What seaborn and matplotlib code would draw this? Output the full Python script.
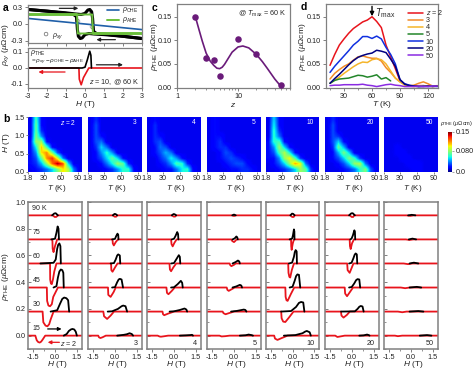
"""Topological Hall effect figure: hysteresis, z dependence, maps and loops."""

import matplotlib.pyplot as plt
import numpy as np
import pandas as pd
import seaborn as sns
from matplotlib.ticker import MultipleLocator, NullFormatter

W, H = 474, 372
Z2 = r"$z$ = 2"

# panel a: hysteresis
a_xy_up_H = [-3, -2, -1, -0.5, -0.2, 0.0, 0.15, 0.25, 0.35, 0.4, 0.45, 0.6, 1, 2, 3]
a_xy_up = [0.26, 0.23, 0.2, 0.18, 0.17, 0.19, 0.25, 0.26, 0.22, 0.1, -0.13, -0.17, -0.18, -0.22, -0.26]
a_xy_down_H = [3, 2, 1, 0.5, 0.2, 0.0, -0.15, -0.25, -0.35, -0.4, -0.45, -0.6, -1, -2, -3]
a_xy_down = [-0.26, -0.22, -0.19, -0.18, -0.17, -0.19, -0.25, -0.26, -0.22, -0.1, 0.13, 0.17, 0.19, 0.23, 0.26]
a_ohe_H = [-3, 3]
a_ohe = [0.1, -0.1]
a_ahe_H = [-3, 0.38, 0.42, 3, -0.38, -0.42, -3]
a_ahe = [0.17, 0.17, -0.17, -0.17, -0.17, 0.17, 0.17]
a_the_black_H = [-3, -0.15, 0.0, 0.12, 0.25, 0.31, 0.34]
a_the_black = [0, 0, 0.005, 0.05, 0.105, 0.08, 0]
a_the_red_H = [-3, -0.32, -0.3, -0.2, -0.08, 0.2, 3]
a_the_red = [0, 0, -0.07, -0.105, -0.06, 0, 0]

# panel c
z_points = [2, 3, 4, 5, 10, 20, 50]
the_points = [0.15, 0.062, 0.059, 0.024, 0.103, 0.072, 0.005]
z_guide = [2, 2.3, 2.6, 3, 3.5, 4, 4.5, 5, 5.5, 6, 7, 8, 10, 12, 15, 20, 25, 30, 40, 50]
the_guide = [0.15, 0.122, 0.098, 0.073, 0.056, 0.047, 0.041, 0.04, 0.043, 0.049, 0.063, 0.075, 0.086, 0.088, 0.084, 0.07, 0.055, 0.041, 0.018, 0.003]

# panel d
temps_d = [15, 20, 25, 30, 35, 40, 45, 50, 55, 60, 65, 70, 75, 80, 85, 90, 95, 100, 105, 110, 115, 120, 125, 130]
the_T = {
    Z2: [0.047, 0.07, 0.09, 0.103, 0.115, 0.125, 0.132, 0.139, 0.143, 0.15, 0.14, 0.127, 0.09, 0.065, 0.04, 0.014, 0.007, 0.004, 0.003, 0.004, 0.004, 0.003, 0.003, 0.003],
    "3": [0.018, 0.03, 0.038, 0.045, 0.05, 0.058, 0.065, 0.067, 0.064, 0.062, 0.062, 0.056, 0.042, 0.032, 0.02, 0.012, 0.007, 0.004, 0.005, 0.009, 0.012, 0.008, 0.003, 0.004],
    "4": [0.009, 0.016, 0.022, 0.03, 0.037, 0.044, 0.05, 0.054, 0.053, 0.059, 0.061, 0.059, 0.05, 0.035, 0.02, 0.012, 0.005, 0.003, 0.002, 0.003, 0.004, 0.003, 0.002, 0.003],
    "5": [0.009, 0.015, 0.018, 0.019, 0.02, 0.023, 0.026, 0.025, 0.022, 0.024, 0.027, 0.018, 0.021, 0.014, None, None, None, None, None, None, None, None, None, None],
    "10": [0.032, 0.045, 0.056, 0.067, 0.078, 0.09, 0.098, 0.108, 0.108, 0.104, 0.109, 0.103, 0.085, 0.07, 0.05, 0.016, 0.008, 0.005, 0.003, 0.002, 0.003, 0.002, 0.003, 0.002],
    "20": [0.009, 0.019, 0.028, 0.038, 0.048, 0.057, 0.064, 0.068, 0.071, 0.073, 0.079, 0.077, 0.074, 0.06, 0.045, 0.017, 0.007, 0.004, 0.003, 0.002, 0.002, 0.003, 0.002, 0.003],
    "50": [0.004, 0.005, 0.005, 0.006, 0.006, 0.006, 0.006, 0.007, 0.005, 0.004, 0.002, 0.004, 0.006, 0.007, 0.005, 0.004, 0.002, 0.002, 0.002, 0.003, 0.002, 0.002, 0.003, 0.003],
}
colors_d = ["#e8141c", "#f28c28", "#f5b52a", "#23862a", "#1030e0", "#000080", "#8a2be2"]

# panel b: maps, in 0.01 uOhm cm, rows from 1.425 T down to 0.075 T
map_T = [5, 15, 25, 35, 45, 55, 65, 75, 85, 95]
map_H = [1.425, 1.275, 1.125, 0.975, 0.825, 0.675, 0.525, 0.375, 0.225, 0.075]
bg = 1.5
map_tables = {
    Z2: [
        [bg, 6.5, 2, bg, bg, bg, bg, bg, bg, bg],
        [bg, 7, 2, bg, bg, bg, bg, bg, bg, bg],
        [bg, 7, 2.5, bg, bg, bg, bg, bg, bg, bg],
        [bg, 7.5, 4, bg, bg, bg, bg, bg, bg, bg],
        [2, 8, 8, 2, bg, bg, bg, bg, bg, bg],
        [2, 5.5, 10.5, 6.5, 2, bg, bg, bg, bg, bg],
        [2, 4, 10, 11.5, 7.5, 3, bg, bg, bg, bg],
        [2, 3, 7, 11.5, 13, 9, 3.5, bg, bg, bg],
        [2, 2.5, 4.5, 8, 12, 14.5, 12.5, 5, bg, bg],
        [bg, 2, 2.5, 3.5, 5, 7.5, 10, 8.5, 3.5, bg],
    ],
    "3": [
        [bg, 2.5, bg, bg, bg, bg, bg, bg, bg, bg],
        [bg, 3, bg, bg, bg, bg, bg, bg, bg, bg],
        [bg, 3, bg, bg, bg, bg, bg, bg, bg, bg],
        [bg, 3, 2, bg, bg, bg, bg, bg, bg, bg],
        [bg, 3, 3.5, bg, bg, bg, bg, bg, bg, bg],
        [bg, 2.5, 5, 3.5, bg, bg, bg, bg, bg, bg],
        [bg, 2, 4, 6, 4, bg, bg, bg, bg, bg],
        [bg, 2, 3, 5, 7, 5, 2, bg, bg, bg],
        [bg, bg, 2, 3.5, 5.5, 8, 7, 2.5, bg, bg],
        [bg, bg, bg, 2, 2.5, 4, 6, 6, 2, bg],
    ],
    "4": [
        [bg, 2, bg, bg, bg, bg, bg, bg, bg, bg],
        [bg, 2.5, bg, bg, bg, bg, bg, bg, bg, bg],
        [bg, 2.5, bg, bg, bg, bg, bg, bg, bg, bg],
        [bg, 2.5, 2, bg, bg, bg, bg, bg, bg, bg],
        [bg, 2.5, 3, bg, bg, bg, bg, bg, bg, bg],
        [bg, 2, 3.5, 3, bg, bg, bg, bg, bg, bg],
        [bg, 2, 3, 4.5, 3.5, bg, bg, bg, bg, bg],
        [bg, bg, 2.5, 3.5, 5.5, 4, 2, bg, bg, bg],
        [bg, bg, 2, 2.5, 4, 6.5, 6, 2.5, bg, bg],
        [bg, bg, bg, 2, 2, 3.5, 5.5, 6, 2, bg],
    ],
    "5": [
        [bg, 2, bg, bg, bg, bg, bg, bg, bg, bg],
        [bg, 2, bg, bg, bg, bg, bg, bg, bg, bg],
        [bg, 2, bg, bg, bg, bg, bg, bg, bg, bg],
        [bg, 2, 2, bg, bg, bg, bg, bg, bg, bg],
        [bg, 2, 2.5, bg, bg, bg, bg, bg, bg, bg],
        [bg, 2, 2.5, 2.5, bg, bg, bg, bg, bg, bg],
        [bg, bg, 2, 3, 2.5, bg, bg, bg, bg, bg],
        [bg, bg, 2, 2.5, 3, 2.5, 2, bg, bg, bg],
        [bg, bg, bg, 2, 2.5, 3, 3, 2, bg, bg],
        [bg, bg, bg, bg, 2, 2, 2.5, 2.5, 2, bg],
    ],
    "10": [
        [bg, 5, 2, bg, bg, bg, bg, bg, bg, bg],
        [bg, 5.5, 2, bg, bg, bg, bg, bg, bg, bg],
        [bg, 6, 2.5, bg, bg, bg, bg, bg, bg, bg],
        [bg, 6, 3.5, bg, bg, bg, bg, bg, bg, bg],
        [2, 6, 6.5, 2, bg, bg, bg, bg, bg, bg],
        [2, 4, 8, 5, 2, bg, bg, bg, bg, bg],
        [2, 3, 6.5, 8.5, 5.5, 2, bg, bg, bg, bg],
        [2, 2, 4, 8, 9.5, 6.5, 2.5, bg, bg, bg],
        [bg, 2, 3, 5, 8, 11, 9.5, 3.5, bg, bg],
        [bg, bg, 2, 2.5, 3.5, 5, 8, 7, 2.5, bg],
    ],
    "20": [
        [bg, 2.5, bg, bg, bg, bg, bg, bg, bg, bg],
        [bg, 3, bg, bg, bg, bg, bg, bg, bg, bg],
        [bg, 3, bg, bg, bg, bg, bg, bg, bg, bg],
        [bg, 3, 2.5, bg, bg, bg, bg, bg, bg, bg],
        [bg, 3, 5, 2, bg, bg, bg, bg, bg, bg],
        [bg, 2.5, 7, 4.5, bg, bg, bg, bg, bg, bg],
        [bg, 2, 4.5, 7.5, 5, bg, bg, bg, bg, bg],
        [bg, 2, 3, 5, 7.5, 6, 2.5, bg, bg, bg],
        [bg, bg, 2, 3, 5, 8, 8.5, 3.5, bg, bg],
        [bg, bg, bg, 2, 2.5, 3.5, 6, 7.5, 3, bg],
    ],
    "50": [
        [bg, bg, bg, bg, bg, bg, bg, bg, bg, bg],
        [bg, bg, bg, bg, bg, bg, bg, bg, bg, bg],
        [bg, bg, bg, bg, bg, bg, bg, bg, bg, bg],
        [bg, bg, bg, bg, bg, bg, bg, bg, bg, bg],
        [bg, bg, bg, bg, bg, bg, bg, bg, bg, bg],
        [bg, bg, 1.8, bg, bg, bg, bg, bg, bg, bg],
        [bg, bg, 1.8, 1.9, bg, bg, bg, bg, bg, bg],
        [bg, bg, bg, 1.9, 1.9, bg, bg, bg, bg, bg],
        [bg, bg, bg, bg, 1.8, 1.9, 1.8, bg, bg, bg],
        [bg, bg, bg, bg, bg, 1.7, 1.8, bg, bg, bg],
    ],
}

# bottom row: loops per z, each temperature gives (H, rho) offset by its baseline
loop_temps = [15, 30, 45, 60, 75, 90]
loop_base = [0.0, 0.18, 0.36, 0.54, 0.72, 0.90]
loops_black = {
    Z2: {
        15: ([0.6, 0.8, 0.95, 1.1, 1.2, 1.32, 1.42, 1.5], [0, 0.012, 0.035, 0.047, 0.05, 0.046, 0.03, 0]),
        30: ([-0.3, 0.15, 0.35, 0.5, 0.63, 0.78, 0.9, 0.97], [0, 0.01, 0.06, 0.095, 0.105, 0.1, 0.085, 0]),
        45: ([-0.1, 0.1, 0.2, 0.3, 0.4, 0.5, 0.57, 0.6], [0, 0.01, 0.075, 0.12, 0.135, 0.13, 0.11, 0]),
        60: ([-1.0, -0.1, 0.05, 0.15, 0.22, 0.3, 0.37, 0.4], [0, 0.005, 0.03, 0.11, 0.14, 0.15, 0.13, 0]),
        75: ([-0.25, 0.0, 0.1, 0.18, 0.24, 0.27], [0, 0.005, 0.05, 0.097, 0.08, 0]),
        90: ([-0.2, -0.05, 0.05, 0.2], [0, 0.014, 0.016, 0]),
    },
    "3": {
        15: ([0.15, 0.6, 0.8, 1.0, 1.15, 1.24], [0, 0.006, 0.01, 0.018, 0.012, 0]),
        30: ([-0.5, -0.2, 0.2, 0.45, 0.56, 0.72, 0.83], [0, 0.002, 0.02, 0.04, 0.045, 0.04, 0]),
        45: ([-0.2, 0.0, 0.15, 0.25, 0.33, 0.45, 0.55], [0, 0.003, 0.04, 0.06, 0.065, 0.06, 0]),
        60: ([-0.3, -0.07, 0.05, 0.15, 0.22, 0.33, 0.36], [0, 0.003, 0.03, 0.06, 0.068, 0.06, 0]),
        75: ([-0.2, 0.0, 0.08, 0.17, 0.22, 0.24], [0, 0.004, 0.025, 0.043, 0.035, 0]),
        90: ([-0.15, -0.03, 0.05, 0.15], [0, 0.011, 0.009, 0]),
    },
    "4": {
        15: ([0.4, 0.8, 1.1, 1.24, 1.3], [0, 0.002, 0.004, 0.006, 0]),
        30: ([-0.3, 0.0, 0.4, 0.72, 0.85, 0.9], [0, 0.002, 0.012, 0.023, 0.015, 0]),
        45: ([-0.2, 0.0, 0.25, 0.47, 0.56, 0.6], [0, 0.002, 0.025, 0.05, 0.035, 0]),
        60: ([-0.2, 0.0, 0.15, 0.33, 0.4, 0.43], [0, 0.003, 0.03, 0.062, 0.05, 0]),
        75: ([-0.15, 0.0, 0.1, 0.22, 0.28, 0.3], [0, 0.005, 0.025, 0.055, 0.04, 0]),
        90: ([-0.15, -0.03, 0.05, 0.15], [0, 0.01, 0.008, 0]),
    },
    "5": {
        15: ([0.4, 0.8, 1.0, 1.2, 1.3], [0, 0.003, 0.008, 0.004, 0]),
        30: ([-0.2, 0.2, 0.67, 0.78, 0.85], [0, 0.005, 0.015, 0.012, 0]),
        45: ([-0.1, 0.15, 0.4, 0.5, 0.55], [0, 0.008, 0.02, 0.015, 0]),
        60: ([-0.1, 0.1, 0.27, 0.36, 0.4], [0, 0.01, 0.022, 0.015, 0]),
        75: ([-0.1, 0.05, 0.16, 0.22, 0.26], [0, 0.008, 0.022, 0.016, 0]),
        90: ([-0.12, 0.0, 0.12], [0, 0.006, 0]),
    },
    "10": {
        15: ([-0.6, 0.2, 0.7, 0.88, 1.0, 1.2, 1.28], [0, 0.004, 0.018, 0.03, 0.035, 0.025, 0]),
        30: ([-0.8, -0.1, 0.25, 0.45, 0.6, 0.75, 0.83], [0, 0.004, 0.035, 0.065, 0.072, 0.068, 0]),
        45: ([-0.2, 0.0, 0.15, 0.25, 0.34, 0.45, 0.54], [0, 0.005, 0.05, 0.085, 0.098, 0.095, 0]),
        60: ([-0.25, -0.03, 0.1, 0.16, 0.22, 0.29, 0.31], [0, 0.006, 0.05, 0.085, 0.1, 0.09, 0]),
        75: ([-0.2, -0.03, 0.03, 0.1, 0.13, 0.14], [0, 0.006, 0.03, 0.075, 0.06, 0]),
        90: ([-0.15, -0.03, 0.05, 0.15], [0, 0.013, 0.011, 0]),
    },
    "20": {
        15: ([0.5, 0.8, 1.03, 1.15, 1.2], [0, 0.002, 0.008, 0.004, 0]),
        30: ([-0.75, 0.2, 0.38, 0.5, 0.6, 0.72, 0.8], [0, 0.002, 0.02, 0.036, 0.042, 0.038, 0]),
        45: ([-0.2, -0.02, 0.15, 0.28, 0.38, 0.5, 0.56], [0, 0.004, 0.03, 0.055, 0.063, 0.06, 0]),
        60: ([-0.2, -0.03, 0.1, 0.18, 0.25, 0.33, 0.36], [0, 0.005, 0.04, 0.065, 0.075, 0.068, 0]),
        75: ([-0.12, -0.03, 0.06, 0.16, 0.2, 0.22], [0, 0.006, 0.03, 0.068, 0.058, 0]),
        90: ([-0.2, -0.05, 0.05, 0.2], [0, 0.015, 0.016, 0]),
    },
    "50": {
        15: ([0.6, 1.1, 1.4], [0, 0.004, 0]),
        30: ([-0.1, 0.5, 0.85], [0, 0.004, 0]),
        45: ([-0.1, 0.4, 0.7], [0, 0.005, 0]),
        60: ([-0.1, 0.2, 0.5], [0, 0.006, 0]),
        75: ([-0.15, 0.1, 0.35], [0, 0.006, 0]),
        90: ([-0.2, 0.05, 0.3], [0, 0.004, 0]),
    },
}
loops_red = {
    Z2: {
        15: ([-1.35, -1.25, -1.15, -1.05, -0.95, -0.85, -0.67], [0, -0.035, -0.048, -0.052, -0.045, -0.03, 0]),
        30: ([-0.85, -0.8, -0.65, -0.52, -0.4, -0.3, -0.1], [0, -0.08, -0.105, -0.11, -0.095, -0.06, 0]),
        45: ([-0.56, -0.54, -0.45, -0.34, -0.22, -0.12, 0.2], [0, -0.1, -0.135, -0.14, -0.125, -0.07, 0]),
        60: ([-0.34, -0.33, -0.28, -0.22, -0.14, -0.05, 0.1], [0, -0.12, -0.15, -0.155, -0.12, -0.06, 0]),
        75: ([-0.18, -0.16, -0.1, 0.0, 0.15], [0, -0.07, -0.095, -0.05, 0]),
        90: ([-0.15, -0.02, 0.08, 0.2], [0, -0.012, -0.012, 0]),
    },
    "3": {
        15: ([-1.15, -1.1, -1.0, -0.85, -0.63], [0, -0.012, -0.018, -0.012, 0]),
        30: ([-0.8, -0.75, -0.54, -0.3, -0.07], [0, -0.035, -0.055, -0.03, 0]),
        45: ([-0.48, -0.46, -0.3, -0.1, 0.05], [0, -0.055, -0.07, -0.035, 0]),
        60: ([-0.27, -0.25, -0.17, 0.0, 0.17], [0, -0.05, -0.062, -0.03, 0]),
        75: ([-0.17, -0.15, -0.08, 0.05, 0.2], [0, -0.03, -0.045, -0.02, 0]),
        90: ([-0.15, -0.02, 0.08, 0.15], [0, -0.01, -0.01, 0]),
    },
    "4": {
        15: ([-1.12, -1.0, -0.9, -0.7, -0.4], [0, -0.006, -0.008, -0.005, 0]),
        30: ([-0.79, -0.75, -0.67, -0.4, 0.0], [0, -0.02, -0.027, -0.015, 0]),
        45: ([-0.52, -0.48, -0.38, -0.15, 0.05], [0, -0.04, -0.05, -0.025, 0]),
        60: ([-0.31, -0.28, -0.2, -0.05, 0.15], [0, -0.045, -0.058, -0.03, 0]),
        75: ([-0.2, -0.17, -0.09, 0.03, 0.18], [0, -0.035, -0.052, -0.025, 0]),
        90: ([-0.15, -0.02, 0.08, 0.15], [0, -0.009, -0.009, 0]),
    },
    "5": {
        15: ([-1.0, -0.85, -0.6, -0.3], [0, -0.006, -0.004, 0]),
        30: ([-0.78, -0.72, -0.58, -0.3, 0.0], [0, -0.012, -0.02, -0.01, 0]),
        45: ([-0.5, -0.45, -0.36, -0.15, 0.05], [0, -0.018, -0.025, -0.012, 0]),
        60: ([-0.3, -0.26, -0.18, 0.0, 0.12], [0, -0.012, -0.02, -0.01, 0]),
        75: ([-0.18, -0.12, 0.0, 0.1, 0.18], [0, -0.012, -0.02, -0.01, 0]),
        90: ([-0.12, 0.0, 0.12], [0, -0.005, 0]),
    },
    "10": {
        15: ([-1.28, -1.22, -1.05, -0.75, -0.35], [0, -0.022, -0.032, -0.018, 0]),
        30: ([-0.79, -0.76, -0.65, -0.5, -0.25, 0.07], [0, -0.05, -0.075, -0.078, -0.045, 0]),
        45: ([-0.5, -0.48, -0.42, -0.34, -0.12, 0.12], [0, -0.07, -0.095, -0.1, -0.05, 0]),
        60: ([-0.3, -0.28, -0.22, -0.16, -0.05, 0.1], [0, -0.07, -0.1, -0.105, -0.05, 0]),
        75: ([-0.1, -0.09, -0.06, 0.02, 0.1], [0, -0.05, -0.078, -0.03, 0]),
        90: ([-0.15, -0.02, 0.08, 0.15], [0, -0.012, -0.012, 0]),
    },
    "20": {
        15: ([-1.15, -1.0, -0.8, -0.5], [0, -0.01, -0.006, 0]),
        30: ([-0.76, -0.72, -0.58, -0.35, -0.15], [0, -0.03, -0.045, -0.025, 0]),
        45: ([-0.5, -0.47, -0.34, -0.15, 0.07], [0, -0.045, -0.065, -0.035, 0]),
        60: ([-0.33, -0.3, -0.16, -0.03, 0.1], [0, -0.05, -0.07, -0.035, 0]),
        75: ([-0.16, -0.14, -0.09, 0.0, 0.13], [0, -0.05, -0.072, -0.03, 0]),
        90: ([-0.15, -0.02, 0.08, 0.15], [0, -0.012, -0.012, 0]),
    },
    "50": {
        15: ([-1.1, -0.9, -0.6], [0, -0.004, 0]),
        30: ([-0.9, -0.6, -0.3], [0, -0.005, 0]),
        45: ([-0.7, -0.4, -0.1], [0, -0.005, 0]),
        60: ([-0.5, -0.2, 0.1], [0, -0.005, 0]),
        75: ([-0.35, -0.1, 0.15], [0, -0.004, 0]),
        90: ([-0.3, -0.05, 0.2], [0, -0.004, 0]),
    },
}
loop_flat = ([-1.85, 1.85], [0, 0])

sns.set_style("ticks")
plt.rcParams["font.family"] = ["Liberation Sans", "DejaVu Sans"]
plt.rcParams["mathtext.fontset"] = "custom"
plt.rcParams["mathtext.rm"] = "Liberation Sans"
plt.rcParams["mathtext.it"] = "Liberation Sans:italic"
plt.rcParams["mathtext.bf"] = "Liberation Sans:bold"
plt.rcParams["axes.edgecolor"] = "#808080"
plt.rcParams["axes.linewidth"] = 0.9
plt.rcParams["xtick.color"] = "#808080"
plt.rcParams["ytick.color"] = "#808080"
plt.rcParams["xtick.labelcolor"] = "#222222"
plt.rcParams["ytick.labelcolor"] = "#222222"

RHO_THE = r"$\rho_{\mathrm{THE}}$"
UNIT = r" ($\mu\Omega$cm)"
TICK = 5.2
LABEL = 6

fig = plt.figure(figsize=(W / 100, H / 100), dpi=100)


def px_axes(x0, y0, x1, y1):
    return fig.add_axes([x0 / W, 1 - y1 / H, (x1 - x0) / W, (y1 - y0) / H])


def px_text(x, y, text, **kw):
    kw.setdefault("fontsize", LABEL)
    kw.setdefault("color", "#222222")
    kw.setdefault("va", "center")
    kw.setdefault("ha", "center")
    fig.text(x / W, 1 - y / H, text, **kw)


def style(ax, length=2, pad=1.5):
    ax.tick_params(axis="both", which="major", labelsize=TICK, length=length, width=0.7, pad=pad)
    ax.tick_params(axis="both", which="minor", length=length * 0.6, width=0.6)


def line(ax, x, y, color, lw=1.3, **kw):
    sns.lineplot(x=x, y=y, ax=ax, color=color, linewidth=lw, sort=False, estimator=None, errorbar=None, **kw)


def arrow(ax, x0, x1, y, color):
    ax.annotate("", xy=(x1, y), xytext=(x0, y), annotation_clip=False,
                arrowprops=dict(arrowstyle="-|>", color=color, lw=0.9, mutation_scale=5, shrinkA=0, shrinkB=0))


# panel a, top
ax = px_axes(28, 5, 142, 43)
line(ax, a_xy_up_H, a_xy_up, "black", 2.2)
line(ax, a_xy_down_H, a_xy_down, "black", 2.2)
sns.scatterplot(x=[-0.35, -0.3, 0.3, 0.35], y=[0.05, -0.2, 0.2, -0.05], ax=ax, s=5, facecolor="none", edgecolor="#777777", linewidth=0.4)
line(ax, a_ohe_H, a_ohe, "#1f5fa8", 1.2)
line(ax, a_ahe_H, a_ahe, "#6abf3a", 1.4)
line(ax, [1.15, 1.8], [0.245, 0.245], "#1f5fa8", 1.2)
line(ax, [1.15, 1.8], [0.08, 0.08], "#6abf3a", 1.4)
ax.text(1.95, 0.245, r"$\rho_{\mathrm{OHE}}$", fontsize=5, va="center")
ax.text(1.95, 0.08, r"$\rho_{\mathrm{AHE}}$", fontsize=5, va="center")
sns.scatterplot(x=[-2.05], y=[-0.18], ax=ax, s=7, facecolor="none", edgecolor="#666666", linewidth=0.5)
ax.text(-1.75, -0.21, r"$\rho_{xy}$", fontsize=5, va="center")
arrow(ax, -1.35, -0.35, 0.28, "#222222")
arrow(ax, 1.6, 0.6, -0.28, "#222222")
ax.set(xlim=(-3, 3), ylim=(-0.34, 0.34))
ax.set_yticks([-0.3, 0, 0.3], ["-0.3", "0.0", "0.3"])
ax.set_xticks([-3, -2, -1, 0, 1, 2, 3], [])
style(ax)

# panel a, bottom
ax = px_axes(28, 48, 142, 88)
line(ax, a_the_red_H, a_the_red, "#e8141c", 1.2)
line(ax, a_the_black_H, a_the_black, "black", 1.2)
ax.text(-2.9, 0.095, RHO_THE, fontsize=5, va="center")
ax.text(-2.9, 0.035, r"$=\rho_{xy}-\rho_{\mathrm{OHE}}-\rho_{\mathrm{AHE}}$", fontsize=4.6, va="center")
ax.text(2.85, -0.09, r"$z$ = 10, @ 60 K", fontsize=5.2, va="center", ha="right")
arrow(ax, 0.6, 2.0, 0.02, "#222222")
arrow(ax, -1.05, -2.45, -0.025, "#e8141c")
ax.set(xlim=(-3, 3), ylim=(-0.125, 0.125))
ax.set_yticks([-0.1, 0, 0.1], ["-0.1", "0.0", "0.1"])
ax.set_xticks([-3, -2, -1, 0, 1, 2, 3], ["-3", "-2", "-1", "0", "1", "2", "3"])
style(ax)
px_text(85, 105, r"$H$ (T)")
px_text(6, 45, r"$\rho_{xy}$" + UNIT, rotation=90)

# panel c
ax = px_axes(177, 4, 290, 88)
line(ax, z_guide, the_guide, "#6a1b7a", 1.2)
sns.scatterplot(x=z_points, y=the_points, ax=ax, color="#6a1b7a", s=22, linewidth=0, zorder=3)
ax.set_xscale("log")
ax.set(xlim=(1, 71), ylim=(-0.001, 0.177), xlabel="", ylabel="")
ax.set_xticks([1, 10], ["1", "10"])
ax.xaxis.set_minor_formatter(NullFormatter())
ax.yaxis.set_major_locator(MultipleLocator(0.05))
ax.set_yticklabels([f"{v:.2f}" for v in ax.get_yticks()])
ax.text(0.97, 0.88, r"@ $T_{\mathrm{max}}$ = 60 K", transform=ax.transAxes, fontsize=5.2, ha="right", va="center")
style(ax)
px_text(233, 105, r"$z$")
px_text(154, 47, RHO_THE + UNIT, rotation=90)

# panel d
ax = px_axes(326, 4, 438, 88)
frame = pd.DataFrame(the_T, index=temps_d).rename_axis("T").reset_index().melt("T", var_name="z", value_name="rho").dropna()
sns.lineplot(frame, x="T", y="rho", hue="z", hue_order=list(the_T), palette=colors_d, ax=ax, linewidth=1.1, errorbar=None)
ax.set(xlim=(10.7, 130.7), ylim=(-0.001, 0.177), xlabel="", ylabel="")
ax.set_xticks([30, 60, 90, 120], ["30", "60", "90", "120"])
ax.xaxis.set_minor_locator(MultipleLocator(15))
ax.yaxis.set_major_locator(MultipleLocator(0.05))
ax.set_yticklabels([f"{v:.2f}" for v in ax.get_yticks()])
ax.annotate("", xy=(60, 0.151), xytext=(60, 0.172), arrowprops=dict(arrowstyle="-|>", color="black", lw=1, mutation_scale=6, shrinkA=0, shrinkB=0))
ax.text(63, 0.158, r"$T_{\mathrm{max}}$", fontsize=7, va="center")
sns.move_legend(ax, "upper left", bbox_to_anchor=(0.69, 1.0), frameon=False, title=None, fontsize=5.2,
                labelspacing=0.0, handlelength=2.1, handletextpad=0.4, borderaxespad=0.2)
style(ax)
px_text(382, 105, r"$T$ (K)")
px_text(302, 47, RHO_THE + UNIT, rotation=90)

# panel b
map_x = [(28, 82), (88, 142), (147, 201), (207, 261), (266, 319), (325, 379), (384, 438)]
for i, (name, (x0, x1)) in enumerate(zip(map_tables, map_x)):
    ax = px_axes(x0, 117, x1, 172)
    grid = np.array(map_tables[name]) * 0.01
    im = ax.imshow(grid, extent=(1.8, 98, 0, 1.5), aspect="auto", cmap="jet", vmin=0, vmax=0.15, interpolation="bilinear")
    ax.text(0.9, 0.9, name, color="white", transform=ax.transAxes, fontsize=4.8, ha="right", va="center")
    ax.set_xticks([1.8, 30, 60, 90], ["1.8", "30", "60", "90"])
    if i == 0:
        ax.set_yticks([0, 0.5, 1, 1.5], ["0.0", "0.5", "1.0", "1.5"])
        px_text(7, 143, r"$H$ (T)", rotation=90)
    else:
        ax.set_yticks([])
    px_text((x0 + x1) / 2 + 2, 189, r"$T$ (K)", fontsize=5.8)
    for side in ax.spines.values():
        side.set_visible(False)
    style(ax, length=1.5, pad=0.8)

cax = px_axes(448, 132, 452, 172)
bar = fig.colorbar(im, cax=cax, ticks=[0, 0.08, 0.15])
bar.ax.set_yticklabels(["0.0", "0.080", "0.15"])
bar.ax.tick_params(labelsize=TICK, length=1.5, width=0.5, pad=1)
bar.outline.set_visible(False)
px_text(457, 124, RHO_THE + UNIT, fontsize=4.1)

# bottom row
for i, (name, (x0, x1)) in enumerate(zip(loops_black, map_x)):
    ax = px_axes(x0, 202, x1, 349)
    for temp, base in zip(loop_temps, loop_base):
        red_H = [loop_flat[0][0]] + loops_red[name][temp][0] + [loop_flat[0][1]]
        red_rho = [loop_flat[1][0]] + loops_red[name][temp][1] + [loop_flat[1][1]]
        line(ax, red_H, np.array(red_rho) + base, "#e8141c")
        line(ax, loops_black[name][temp][0], np.array(loops_black[name][temp][1]) + base, "black")
    ax.set(xlim=(-1.85, 1.85), ylim=(-0.1, 1.0))
    ax.set_xticks([-1.5, 0, 1.5], ["-1.5", "0.0", "1.5"])
    ax.xaxis.set_minor_locator(MultipleLocator(0.75))
    ax.yaxis.set_major_locator(MultipleLocator(0.2))
    ax.yaxis.set_minor_locator(MultipleLocator(0.1))
    if i == 0:
        ax.set_yticks([0, 0.2, 0.4, 0.6, 0.8, 1.0], ["0.0", "0.2", "0.4", "0.6", "0.8", "1.0"])
    else:
        ax.set_yticklabels([])
    px_text((x0 + x1) / 2 + 2, 365, r"$H$ (T)")
    ax.text(0.92, 0.04, name, transform=ax.transAxes, fontsize=5.2, ha="right", va="center")
    ax.tick_params(axis="y", which="both", direction="in")
    style(ax)
    for side in ax.spines.values():
        side.set_linewidth(1.1)
    if i == 0:
        for temp_label, base in zip(["15", "30", "45", "60", "75", "90 K"], loop_base):
            ax.text(-1.55, base + 0.05, temp_label, fontsize=5, va="center", color="#222222")
        arrow(ax, -0.5, 0.45, 0.05, "black")
        arrow(ax, 0.3, -0.5, -0.05, "#e8141c")

px_text(6, 277, RHO_THE + UNIT, rotation=90)

# panel letters
for x, y, letter in [(3, 8, "a"), (3, 119, "b"), (152, 8, "c"), (301, 7, "d")]:
    px_text(x, y, letter, fontsize=7.5, fontweight="bold", color="black", ha="left")

plt.savefig("out.png", dpi=100)
